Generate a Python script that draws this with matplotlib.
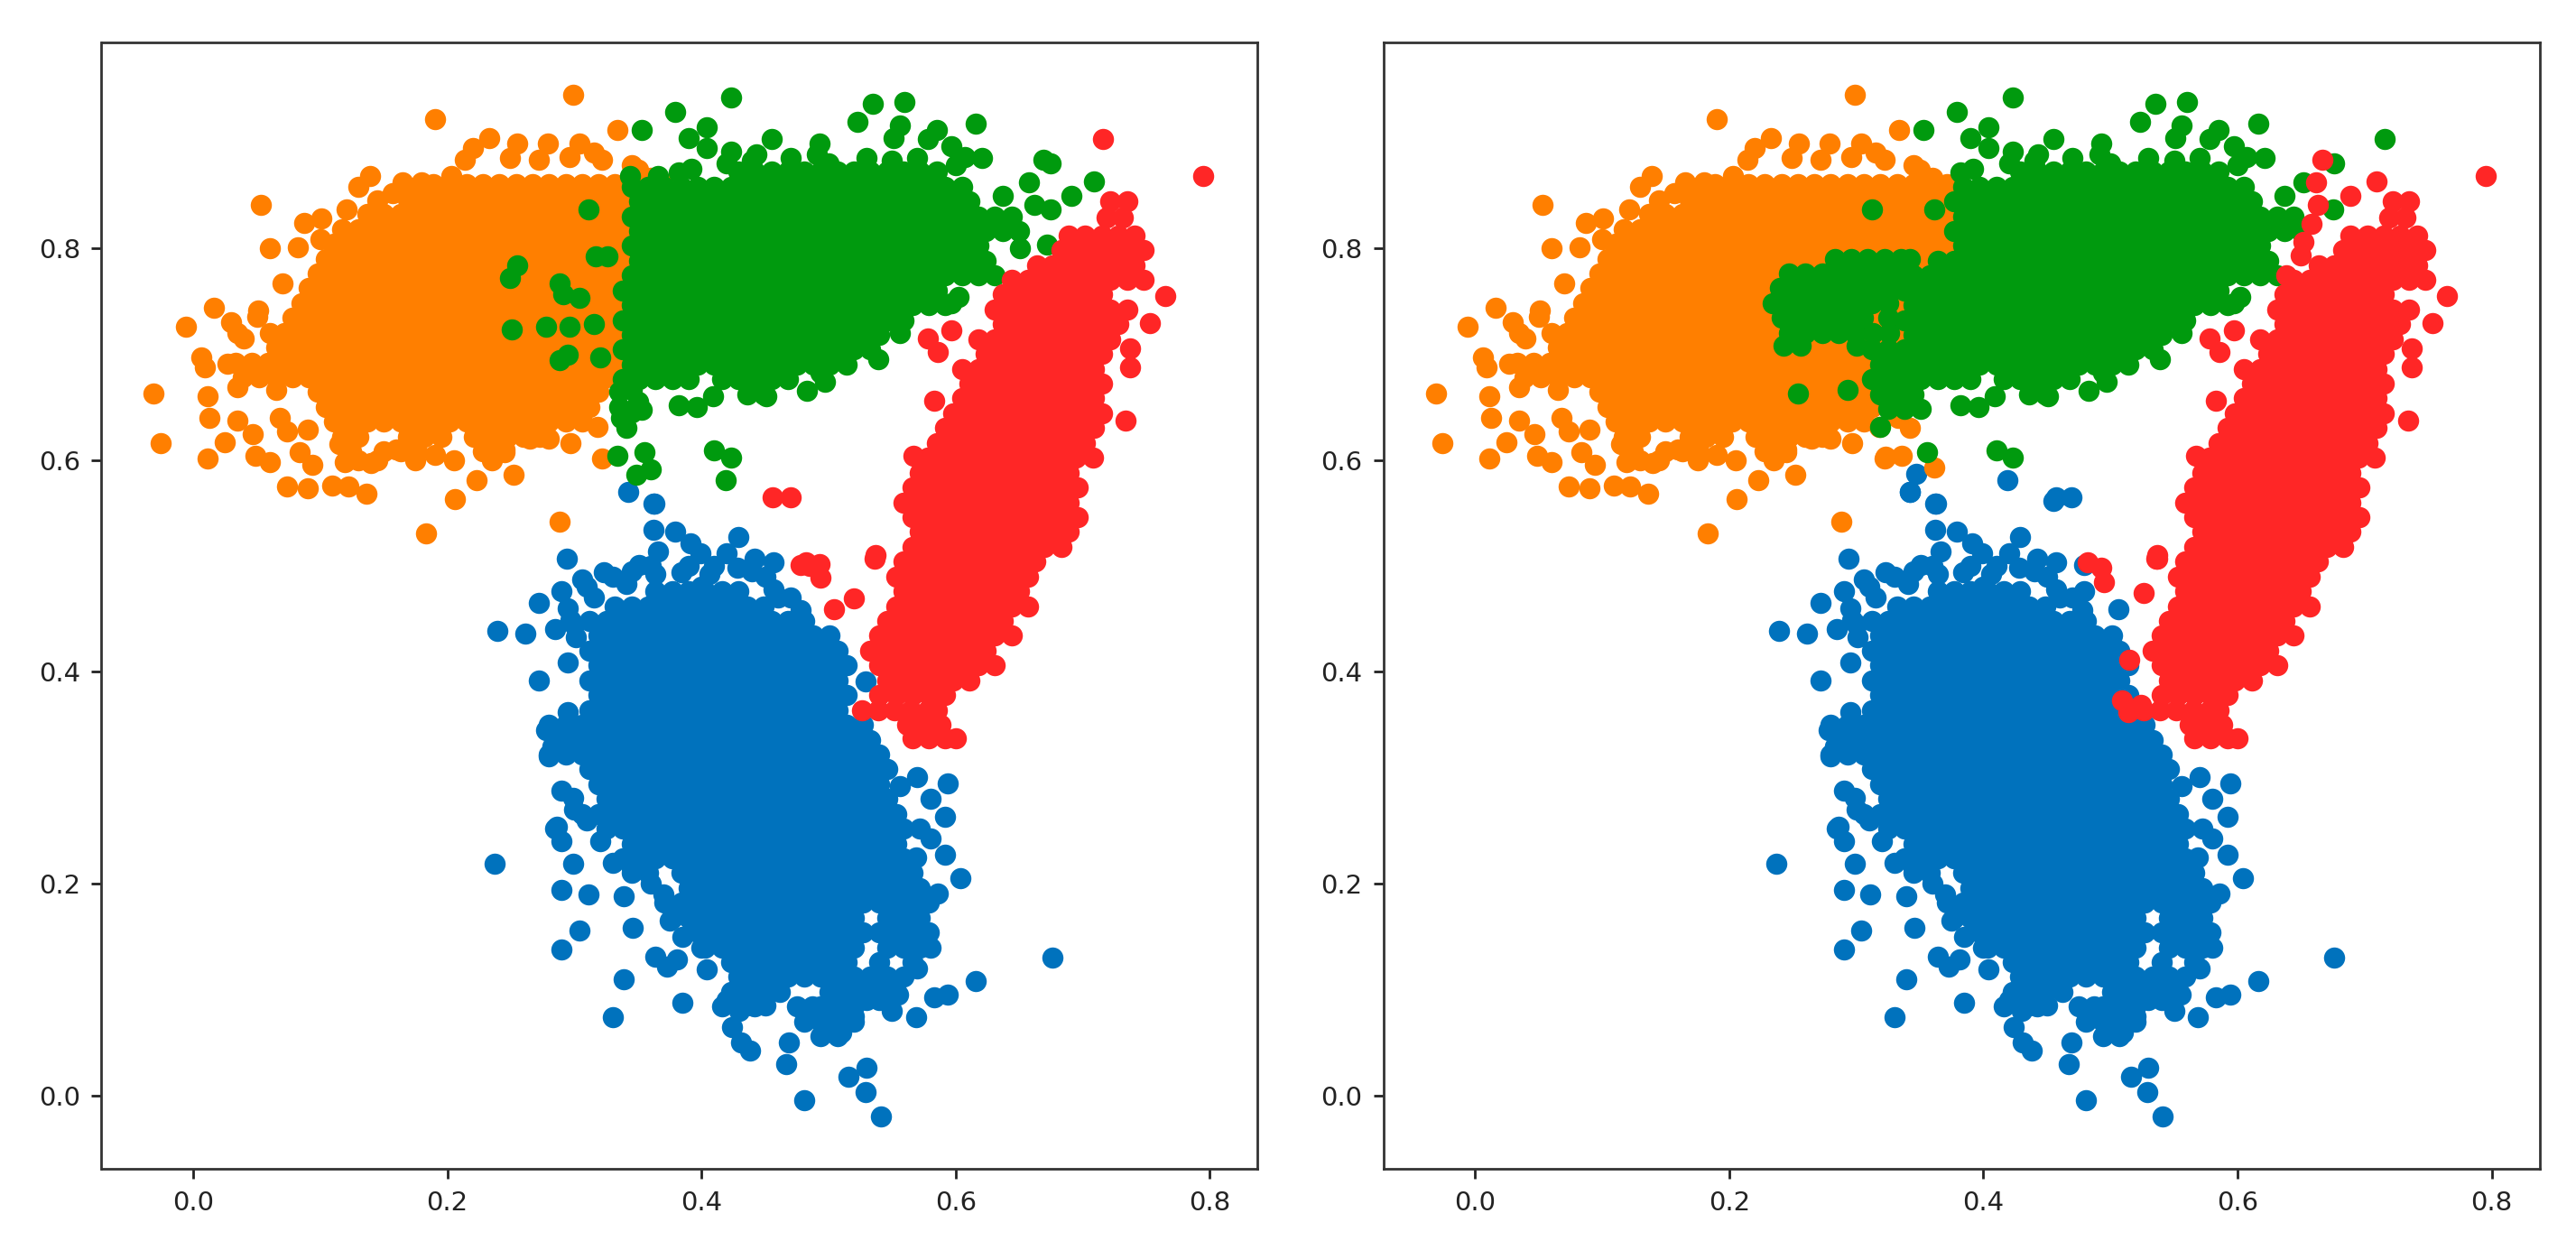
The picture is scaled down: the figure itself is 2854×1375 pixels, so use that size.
import matplotlib
matplotlib.use('Agg')
from matplotlib import pyplot as plt

# rows of the solid blobs: y -> x values, both in thousandths
blue_rows = {
    476: [364, 377, 390, 403, 416, 429],
    462: [332, 345, 358, 371, 384, 397, 410, 423, 436, 449],
    448: [312, 325, 338, 351, 364, 377, 390, 403, 416, 429, 442, 455, 468, 481],
    434: [319, 332, 345, 358, 371, 384, 397, 410, 423, 436, 449, 462, 475, 488, 501],
    420: [312, 325, 338, 351, 364, 377, 390, 403, 416, 429, 442, 455, 468, 481, 494, 507],
    406: [319, 332, 345, 358, 371, 384, 397, 410, 423, 436, 449, 462, 475, 488, 501, 514],
    392: [312, 325, 338, 351, 364, 377, 390, 403, 416, 429, 442, 455, 468, 481, 494, 507],
    378: [319, 332, 345, 358, 371, 384, 397, 410, 423, 436, 449, 462, 475, 488, 501, 514],
    364: [312, 325, 338, 351, 364, 377, 390, 403, 416, 429, 442, 455, 468, 481, 494, 507],
    350: [280, 293, 306, 319, 332, 345, 358, 371, 384, 397, 410, 423, 436, 449, 462, 475, 488, 501, 514, 527],
    336: [286, 299, 312, 325, 338, 351, 364, 377, 390, 403, 416, 429, 442, 455, 468, 481, 494, 507, 520, 533],
    322: [280, 293, 306, 319, 332, 345, 358, 371, 384, 397, 410, 423, 436, 449, 462, 475, 488, 501, 514, 527, 540],
    308: [312, 325, 338, 351, 364, 377, 390, 403, 416, 429, 442, 455, 468, 481, 494, 507, 520, 533, 546],
    294: [319, 332, 345, 358, 371, 384, 397, 410, 423, 436, 449, 462, 475, 488, 501, 514, 527, 540],
    280: [325, 338, 351, 364, 377, 390, 403, 416, 429, 442, 455, 468, 481, 494, 507, 520, 533, 546],
    266: [306, 319, 332, 345, 358, 371, 384, 397, 410, 423, 436, 449, 462, 475, 488, 501, 514, 527, 540, 553],
    252: [325, 338, 351, 364, 377, 390, 403, 416, 429, 442, 455, 468, 481, 494, 507, 520, 533, 546, 559, 572],
    238: [345, 358, 371, 384, 397, 410, 423, 436, 449, 462, 475, 488, 501, 514, 527, 540, 553],
    224: [338, 351, 364, 377, 390, 403, 416, 429, 442, 455, 468, 481, 494, 507, 520, 533, 546, 559],
    210: [345, 358, 384, 397, 410, 423, 436, 449, 462, 475, 488, 501, 514, 527, 540, 553, 566],
    196: [390, 403, 416, 429, 442, 455, 468, 481, 494, 507, 520, 533, 546, 559, 572],
    182: [371, 384, 397, 410, 423, 436, 449, 462, 475, 488, 501, 514, 527, 540, 553, 566, 579],
    168: [377, 390, 403, 416, 429, 442, 455, 468, 481, 494, 507, 520, 546, 559, 572],
    154: [397, 410, 423, 436, 449, 462, 475, 488, 501, 514, 527, 540, 553, 566, 579],
    140: [403, 416, 429, 442, 455, 468, 481, 494, 507, 520, 546, 559, 572],
    126: [423, 436, 449, 462, 475, 488, 501, 514, 540, 566],
    112: [429, 442, 455, 468, 481, 494, 507, 520, 533, 546, 559],
    98: [423, 436, 449, 462, 501, 514, 527, 540, 553],
    84: [416, 429, 442, 475, 487, 494, 507, 520],
    70: [481, 494, 507, 520],
    56: [494, 507],
}
blue_x = [.362, .362, .294, .239, .261, .272, .237, .290, .299, .311, .339, .304, .290, .346, .339, .330, .385,
          .431, .469, .467, .481, .516, .530, .529, .541, .676, .616, .569, .583, .594, .604, .592, .586, .592,
          .580, .594, .570, .556, .580, .569, .373, .364, .381, .404, .286, .290, .299, .295, .295,
          .429, .379, .391, .366, .351, .323, .306, .290, .272, .297, .301, .399, .420, .442, .457, .457,
          .364, .341, .384, .406, .428, .342, .363, .278, .283, .280, .290, .285, .424, .478, .438,
          .315, .330, .345, .360, .310, .295, .285, .300, .390, .410, .440, .450, .470, .400, .460,
          .300, .310, .320, .330, .345, .360, .370, .375, .385, .400,
          .420, .430, .440, .450, .490, .500, .510, .520, .530, .540, .550, .555, .570, .580]
blue_y = [.559, .534, .507, .439, .436, .392, .219, .194, .219, .190, .188, .156, .138, .158, .110, .074, .088,
          .050, .050, .030, -.004, .018, .026, .003, -.020, .130, .108, .074, .093, .095, .205, .227, .191, .263,
          .280, .295, .301, .292, .243, .225, .122, .131, .129, .119, .254, .288, .281, .409, .362,
          .527, .532, .521, .514, .501, .494, .487, .476, .465, .449, .433, .512, .512, .507, .503, .478,
          .492, .483, .494, .492, .498, .570, .559, .345, .330, .320, .240, .252, .065, .458, .043,
          .470, .490, .495, .500, .480, .460, .440, .445, .500, .500, .495, .490, .470, .480, .470,
          .270, .260, .240, .220, .215, .200, .190, .165, .150, .140,
          .090, .080, .085, .085, .080, .070, .060, .075, .090, .090, .080, .095, .120, .140]

orange_rows = {
    860: [189, 202, 215, 228, 241, 254, 267, 280, 293, 306, 319, 332, 345, 358, 371],
    846: [169, 182, 195, 208, 221, 234, 247, 260, 273, 286, 299, 312, 325, 338, 351, 364],
    832: [137, 150, 163, 176, 189, 202, 215, 228, 241, 254, 267, 280, 293, 306, 319, 332, 345, 358, 371],
    818: [117, 130, 143, 156, 169, 182, 195, 208, 221, 234, 247, 260, 273, 286, 299, 312, 325, 338, 351, 364],
    804: [111, 124, 137, 150, 163, 176, 189, 202, 215, 228, 241, 254, 267, 280, 293, 306, 319, 332, 345, 358, 371],
    790: [104, 117, 130, 143, 156, 169, 182, 195, 208, 221, 234, 247, 260, 273, 286, 299, 312, 325, 338, 351, 364],
    776: [98, 111, 124, 137, 150, 163, 176, 189, 202, 215, 228, 241, 254, 267, 280, 293, 306, 319, 332, 345, 358, 371],
    762: [91, 104, 117, 130, 143, 156, 169, 182, 195, 208, 221, 234, 247, 260, 273, 286, 299, 312, 325, 338, 351],
    748: [85, 98, 111, 124, 137, 150, 163, 176, 189, 202, 215, 228, 241, 254, 267, 280, 293, 306, 319, 332, 345],
    734: [78, 91, 104, 117, 130, 143, 156, 169, 182, 195, 208, 221, 234, 247, 260, 273, 286, 299, 312, 325, 338],
    720: [72, 85, 98, 111, 124, 137, 150, 163, 176, 189, 202, 215, 228, 241, 254, 267, 280, 293, 306, 319, 332, 345],
    706: [65, 78, 91, 104, 117, 130, 143, 156, 169, 182, 195, 208, 221, 234, 247, 260, 273, 286, 299, 312, 325, 338],
    692: [33, 46, 59, 72, 85, 98, 111, 124, 137, 150, 163, 176, 189, 202, 215, 228, 241, 254, 267, 280, 293, 306, 319, 332],
    678: [39, 52, 65, 78, 91, 104, 117, 130, 143, 156, 169, 182, 195, 208, 221, 234, 247, 260, 273, 286, 299, 312, 325],
    664: [98, 111, 124, 137, 150, 163, 176, 189, 202, 215, 228, 241, 254, 267, 280, 293, 306, 319],
    650: [104, 117, 130, 143, 156, 169, 182, 195, 208, 221, 234, 247, 260, 273, 286, 299, 312],
    636: [111, 124, 137, 150, 163, 176, 189, 202, 215, 228, 241, 254, 267, 280, 293, 306],
    622: [117, 130, 169, 182, 195, 221, 234, 247, 260, 273],
    608: [124, 150, 163, 176, 228, 240],
}
orange_x = [.299, .190, .053, .060, .016, -.006, -.031, -.026, .011, .013, .011, .025, .035, .047, .049, .060,
            .074, .090, .109, .122, .136, .084, .094, .119, .206, .223, .252, .288, .183, .297, .318, .322,
            .233, .220, .214, .203, .255, .249, .279, .272, .304, .296, .315, .322, .334, .139, .130, .165, .157,
            .121, .101, .087, .082, .100, .070, .051, .030, .040, .006, .009, .027, .035, .065, .068, .074, .090,
            .140, .205, .245, .345, .180, .170, .145, .115, .130, .145, .160, .175, .190, .235, .245, .265, .280,
            .060, .050, .035, .350, .360]
orange_y = [.945, .922, .841, .800, .744, .726, .663, .616, .660, .640, .601, .617, .637, .624, .604, .598,
            .575, .573, .576, .575, .568, .607, .595, .598, .563, .581, .586, .542, .531, .616, .631, .601,
            .904, .894, .883, .868, .899, .885, .899, .883, .899, .886, .890, .883, .911, .868, .858, .862, .852,
            .836, .828, .824, .801, .808, .767, .741, .730, .715, .697, .687, .691, .669, .666, .640, .627, .629,
            .597, .600, .607, .878, .862, .850, .845, .615, .600, .600, .610, .600, .605, .600, .610, .620, .620,
            .720, .735, .720, .874, .866]

green_rows = {
    872: [429, 442, 455, 468, 481, 494, 507, 520, 533, 546, 559, 572, 585],
    858: [384, 397, 410, 423, 436, 449, 462, 475, 488, 501, 514, 527, 540, 553, 566, 579, 592, 605],
    844: [377, 390, 403, 416, 429, 442, 455, 468, 481, 494, 507, 520, 533, 546, 559, 572, 585, 598, 611],
    830: [384, 397, 410, 423, 436, 449, 462, 475, 488, 501, 514, 527, 540, 553, 566, 579, 592, 605, 618, 631, 644],
    816: [377, 390, 403, 416, 429, 442, 455, 468, 481, 494, 507, 520, 533, 546, 559, 572, 585, 598, 611, 624, 637, 650],
    802: [384, 397, 410, 423, 436, 449, 462, 475, 488, 501, 514, 527, 540, 553, 566, 579, 592, 605, 618],
    788: [364, 377, 390, 403, 416, 429, 442, 455, 468, 481, 494, 507, 520, 533, 546, 559, 572, 585, 598, 611, 624],
    774: [345, 358, 371, 384, 397, 410, 423, 436, 449, 462, 475, 488, 501, 514, 527, 540, 553, 566, 579, 592, 605, 618, 631],
    760: [338, 351, 364, 377, 390, 403, 416, 429, 442, 455, 468, 481, 494, 507, 520, 533, 546, 559, 572, 585],
    746: [345, 358, 371, 384, 397, 410, 423, 436, 449, 462, 475, 488, 501, 514, 527, 540, 553, 566, 579, 592],
    732: [338, 351, 364, 377, 390, 403, 416, 429, 442, 455, 468, 481, 494, 507, 520, 533, 546, 559],
    718: [345, 358, 371, 384, 397, 410, 423, 436, 449, 462, 475, 488, 501, 514, 527, 540],
    704: [338, 351, 364, 377, 390, 403, 416, 429, 442, 455, 468, 481, 494, 507, 520, 533],
    690: [345, 358, 371, 384, 397, 410, 423, 436, 449, 462, 475, 488, 501, 514],
    676: [338, 351, 364, 377, 390, 416, 429, 442, 455, 468],
    662: [436, 449],
}
green_x = [.423, .379, .353, .390, .404, .404, .423, .455, .443, .493, .491, .535, .560, .523, .556, .551,
           .585, .578, .616, .597, .607, .621, .602, .597, .556, .539, .494, .497, .483, .451, .409, .396, .382,
           .410, .423, .382, .392, .440, .470, .550, .570, .420, .600, .500, .530]
green_y = [.942, .928, .911, .904, .914, .894, .891, .903, .888, .899, .888, .936, .938, .919, .916, .904,
           .911, .903, .917, .896, .886, .885, .754, .748, .720, .695, .682, .674, .665, .660, .660, .650, .652,
           .609, .602, .871, .875, .882, .885, .882, .885, .880, .878, .880, .885]

# only in the left panel
left_green_rows = {
    858: [345, 358, 371],
    844: [351, 364],
    830: [345, 358, 371],
    816: [351, 364],
    802: [345, 358, 371],
    788: [351],
}
left_green_x = [.344, .366, .311, .255, .249, .288, .291, .304, .251, .278, .296, .295, .288, .317, .326, .315, .320,
                .669, .675, .658, .637, .691, .709, .662, .675, .651, .672, .337, .341, .353, .355, .360, .349, .334,
                .419, .335, .345, .350, .335, .345]
left_green_y = [.868, .868, .836, .784, .772, .767, .756, .753, .723, .726, .726, .699, .694, .792, .792, .728, .697,
                .883, .880, .862, .849, .849, .863, .841, .836, .800, .803, .640, .630, .647, .607, .591, .586, .604,
                .581, .664, .666, .655, .650, .645]
left_red_x = [.716, .456, .470, .478, .485, .494, .504, .520, .482, .493]
left_red_y = [.903, .565, .565, .501, .500, .489, .459, .469, .503, .502]
left_blue_x = [.529]
left_blue_y = [.391]

# only in the right panel
right_green_rows = {
    790: [283, 296, 309, 322, 335, 342],
    776: [247, 260, 273, 286, 299, 312, 325, 338],
    774: [332],
    762: [240, 253, 266, 279, 292, 305, 318, 331],
    760: [325],
    748: [234, 247, 260, 273, 286, 299, 312, 325],
    734: [241, 254, 267, 280, 293, 305, 325],
    720: [247, 260, 273, 286, 299, 313, 326],
    708: [243, 256, 300],
    704: [312, 325],
    690: [319, 332],
    676: [312, 325],
    662: [319, 332, 345],
    648: [325, 338, 351],
}
right_green_x = [.312, .361, .254, .293, .319, .356, .716, .676, .652, .637, .675]
right_green_y = [.836, .836, .663, .666, .631, .607, .903, .880, .862, .849, .836]
right_orange_x = [.333, .342, .336, .361, .323, .330, .345, .350]
right_orange_y = [.640, .630, .604, .593, .603, .780, .783, .780]
right_blue_x = [.419, .457, .469, .479, .479, .506, .455, .347, .342]
right_blue_y = [.581, .565, .565, .501, .476, .459, .561, .587, .570]
right_red_x = [.667, .662, .689, .709, .663, .658, .652, .650, .638, .493, .495, .515, .537, .526, .509, .514, .524, .482]
right_red_y = [.883, .862, .849, .863, .841, .823, .806, .793, .774, .498, .485, .411, .507, .474, .373, .362, .369, .503]

red_rows = {
    844: [722, 735],
    829: [719, 732],
    812: [689, 702, 715, 728, 741],
    798: [683, 696, 709, 722, 735, 748],
    784: [664, 676, 689, 702, 715, 728, 741],
    770: [644, 657, 670, 683, 696, 709, 722, 735, 748],
    756: [637, 650, 663, 676, 689, 702, 715],
    742: [631, 644, 657, 670, 683, 696, 709, 722, 735],
    728: [637, 650, 663, 676, 689, 702, 715, 728],
    714: [618, 631, 644, 657, 670, 683, 696, 709, 722],
    700: [624, 637, 650, 663, 676, 689, 702, 715],
    686: [605, 618, 631, 644, 657, 670, 683, 696, 709],
    672: [611, 624, 637, 650, 663, 676, 689, 702, 715],
    658: [605, 618, 631, 644, 657, 670, 683, 696, 709],
    644: [598, 611, 624, 637, 650, 663, 676, 689, 702, 715],
    630: [592, 605, 618, 631, 644, 657, 670, 683, 696, 709],
    616: [585, 598, 611, 624, 637, 650, 663, 676, 689, 702],
    602: [578, 591, 604, 617, 630, 643, 656, 669, 682, 695, 708],
    588: [572, 585, 598, 611, 624, 637, 650, 663, 676, 689],
    574: [566, 579, 592, 605, 618, 631, 644, 657, 670, 683, 696],
    560: [559, 572, 585, 598, 611, 624, 637, 650, 663, 676, 689],
    546: [566, 579, 592, 605, 618, 631, 644, 657, 670, 683, 696],
    532: [572, 585, 598, 611, 624, 637, 650, 663, 676, 689],
    518: [566, 579, 592, 605, 618, 631, 644, 657, 670, 683],
    504: [559, 572, 585, 598, 611, 624, 637, 650, 663],
    490: [553, 566, 579, 592, 605, 618, 631, 644, 657],
    476: [559, 572, 585, 598, 611, 624, 637, 650],
    462: [553, 566, 579, 592, 605, 618, 631, 644, 657],
    448: [546, 559, 572, 585, 598, 611, 624, 637],
    434: [540, 553, 566, 579, 592, 605, 618, 631, 644],
    420: [533, 546, 559, 572, 585, 598, 611, 624],
    406: [540, 553, 566, 579, 592, 605, 618, 631],
    392: [546, 559, 572, 585, 598, 611],
    378: [540, 553, 566, 579, 592],
    364: [526, 539, 552, 565, 578, 585],
    350: [562, 575, 588],
    337: [566, 579, 592, 600],
}
red_x = [.795, .765, .753, .737, .737, .734, .597, .578, .586, .583, .567, .537, .536]
red_y = [.868, .755, .729, .705, .687, .637, .722, .715, .702, .656, .604, .510, .507]

xticks = [0.0, 0.2, 0.4, 0.6, 0.8]
yticks = [0.0, 0.2, 0.4, 0.6, 0.8]

BLUE = '#0072bd'
ORANGE = '#ff7f00'
GREEN = '#009a0e'
RED = '#ff2626'


def flatten(rows, xs=(), ys=()):
    px = [v / 1000 for row in rows.values() for v in row] + list(xs)
    py = [k / 1000 for k, row in rows.items() for v in row] + list(ys)
    return px, py


def draw(ax, blue, orange, green, red):
    for pts, col in ((blue, BLUE), (orange, ORANGE), (green, GREEN), (red, RED)):
        ax.scatter(pts[0], pts[1], s=285, color=col, linewidths=0)
    ax.set_xlim(-0.0722, 0.8375)
    ax.set_ylim(-0.069, 0.994)
    ax.set_xticks(xticks)
    ax.set_yticks(yticks)
    ax.tick_params(labelsize=21, length=8, width=2, labelcolor='#222222', color='#222222', pad=9)
    for s in ax.spines.values():
        s.set_linewidth(2)
        s.set_color('#333333')


W, H = 2854, 1375
fig = plt.figure(figsize=(W / 100, H / 100), dpi=100)
ax1 = fig.add_axes([112.5 / W, 1 - 1295 / H, 1280.5 / W, 1248 / H])
ax2 = fig.add_axes([1532.5 / W, 1 - 1295 / H, 1281 / W, 1248 / H])

bx, by = flatten(blue_rows, blue_x, blue_y)
ox, oy = flatten(orange_rows, orange_x, orange_y)
gx, gy = flatten(green_rows, green_x, green_y)
rx, ry = flatten(red_rows, red_x, red_y)
lgx, lgy = flatten(left_green_rows, left_green_x, left_green_y)
rgx, rgy = flatten(right_green_rows, right_green_x, right_green_y)

draw(ax1, (bx + left_blue_x, by + left_blue_y), (ox, oy), (gx + lgx, gy + lgy),
     (rx + left_red_x, ry + left_red_y))
draw(ax2, (bx + right_blue_x, by + right_blue_y), (ox + right_orange_x, oy + right_orange_y),
     (gx + rgx, gy + rgy), (rx + right_red_x, ry + right_red_y))

fig.savefig('out.png', dpi=100)
